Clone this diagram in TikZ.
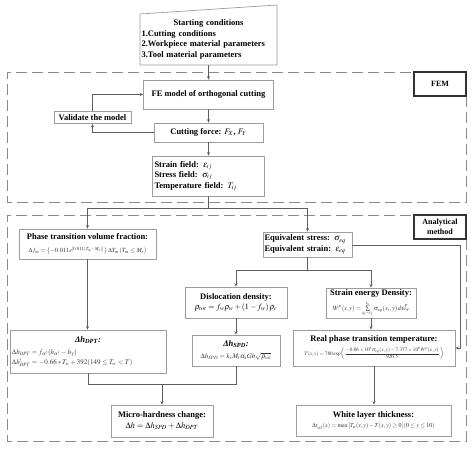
\documentclass[tikz,border=0pt]{standalone}
\usepackage{mathptmx}
\usepackage{fontspec}
\setmainfont{Liberation Serif}
\usetikzlibrary{arrows.meta}
\definecolor{boxgray}{HTML}{9C9C9C}
\definecolor{linegray}{HTML}{5E5E5E}
\definecolor{dashgray}{HTML}{8A8A8A}
\definecolor{frmgray}{HTML}{333333}
\newcommand\hdrfont{\fontsize{8.5}{10.5}\selectfont\bfseries}
\newcommand\frmfont{\fontsize{6.3}{8}\selectfont\mdseries\color{frmgray}}
\newcommand\tinyfrm{\fontsize{5.2}{6.5}\selectfont\mdseries\color{frmgray}}
\tikzset{
  box/.style={draw=boxgray, line width=0.7pt, fill=white, inner sep=1.5pt, font=\hdrfont, text=black},
  lbl/.style={draw=black!80, line width=1.1pt, fill=white, inner sep=1pt, font=\fontsize{8}{9.5}\selectfont\bfseries, align=center},
  conn/.style={draw=linegray, line width=0.6pt},
  arr/.style={conn, -{Stealth[length=3.5pt,width=3pt]}},
  region/.style={draw=dashgray, line width=0.8pt, dash pattern=on 11pt off 5pt}
}
\begin{document}
\begin{tikzpicture}[x=1pt,y=-1pt]
\useasboundingbox (0,0) rectangle (474,449);
% dashed regions
\draw[region] (466,96) -- (466,202) -- (7,202) -- (7,72) -- (414,72);
\draw[region] (466,239) -- (466,441) -- (7,441) -- (7,215) -- (414,215);
\node[lbl, minimum width=52pt, minimum height=24pt] (femlbl) at (440,84) {FEM};
\node[lbl, minimum width=52pt, minimum height=24pt] (anlbl) at (440,227) {Analytical\\method};
% start box
\draw[boxgray, line width=0.7pt, fill=white] (140,14) -- (277,5) -- (277,65) -- (140,65) -- cycle;
\node[font=\hdrfont, align=left, text width=134pt, minimum height=51pt, inner sep=0pt] (start) at (208.5,39.5)
  {\makebox[\linewidth]{Starting conditions}\\1.Cutting conditions\\2.Workpiece material parameters\\3.Tool material parameters};
% FEM part
\node[box, minimum width=130pt, minimum height=29pt] (fe) at (208.5,94.5) {FE model of orthogonal cutting};
\node[box, minimum width=77pt, minimum height=12pt, inner sep=0.5pt] (val) at (92.5,117.5) {Validate the model};
\node[box, minimum width=109pt, minimum height=19pt] (cut) at (208.5,132.5) {Cutting force: $F_X$, $F_Y$};
\node[box, minimum width=112pt, minimum height=40pt, text width=108pt, align=left] (strain) at (208.5,176)
  {Strain field: $\varepsilon_{ij}$\\Stress field: $\sigma_{ij}$\\Temperature field: $T_{ij}$};
% analytical part
\node[box, minimum width=137pt, minimum height=30pt, align=center] (phase) at (87.5,244)
  {Phase transition volume fraction:\\[3pt]{\frmfont $\Delta f_m=\{-0.011e^{[0.011(T_m-M_s)]}\}\,\Delta T_m\,(T_m\le M_s)$}};
\node[box, minimum width=89pt, minimum height=25pt, text width=86pt, align=left] (equiv) at (307.5,244.5)
  {Equivalent stress: $\sigma_{eq}$\\Equivalent strain: $\varepsilon_{eq}$};
\node[box, minimum width=102pt, minimum height=31pt, align=center] (disl) at (236,302.5)
  {Dislocation density:\\{\fontsize{8}{10}\selectfont\mdseries $\rho_{tot}=f_w\rho_w+\left(1-f_w\right)\rho_c$}};
\node[box, minimum width=90pt, minimum height=30pt, align=center] (senergy) at (371,303)
  {Strain energy Density:\\[3pt]{\frmfont $W^p(x,y)=\sum\limits_{t_0\sim t_1}^{t_n}\sigma_{eq}(x_i,y)\,d\varepsilon^p_{eq}$}};
\node[box, minimum width=162pt, minimum height=36pt, align=center] (realph) at (374,348)
  {Real phase transition temperature:\\[3pt]{\tinyfrm $T(x,y)=780\exp\!\left(\displaystyle\frac{-0.06\times10^{6}\sigma_{eq}(x,y)-7.377\times10^{6}W^p(x,y)}{920.5}\right)$}};
\node[box, minimum width=156pt, minimum height=43pt, text width=152pt, align=left] (dhdpt) at (88,351.5)
  {\makebox[\linewidth]{\textit{Δh}\textsubscript{\textit{DPT}}\textit{:}}\\[1pt]
   {\frmfont\fontsize{7}{9}\selectfont $\Delta h_{DPT}=f_{\alpha'}(h_{\alpha'}-h_{\gamma})$}\\
   {\frmfont\fontsize{7}{9}\selectfont $\Delta h'_{DPT}=-0.66*T_w+392(149\le T_w<T)$}};
\node[box, minimum width=88pt, minimum height=31pt, align=center] (dhspd) at (236,350.5)
  {\textit{Δh}\textsubscript{\textit{SPD}}\textit{:}\\[1pt]{\frmfont\fontsize{7}{9}\selectfont $\Delta h_{SPD}=k_sM_t\alpha_sGb\sqrt{\rho_{tot}}$}};
\node[box, minimum width=102pt, minimum height=32pt, align=center] (micro) at (162,421)
  {Micro-hardness change:\\{\fontsize{8.5}{10}\selectfont\mdseries $\Delta h=\Delta h_{SPD}+\Delta h_{DPT}$}};
\node[box, minimum width=155pt, minimum height=31pt, align=center] (white) at (373.5,420.5)
  {White layer thickness:\\{\frmfont\fontsize{6}{8}\selectfont $\Delta t_{wl}(x)=\max\left[T_a(x,y)-T(x,y)\ge0\right](0\le y\le10)$}};
% connectors
\draw[arr] (start.south) -- (start.south |- fe.north);
\draw[arr] (fe.south) -- (fe.south |- cut.north);
\draw[arr] (cut.south) -- (cut.south |- strain.north);
\draw[arr] (cut.west) -| (val.south);
\draw[arr] (val.north) |- (fe.west);
\draw[conn] (strain.south) -- (208.5,208);
\draw[arr] (208.5,208) -| (phase.north);
\draw[arr] (208.5,208) -| (equiv.north);
\draw[conn] (equiv.south) -- (307.5,270);
\draw[arr] (307.5,270) -| (disl.north);
\draw[arr] (307.5,270) -| (senergy.north);
\draw[arr] (equiv.east |- 0,245) -- (460,245) |- (realph.east);
\draw[arr] (phase.south) -- (phase.south |- dhdpt.north);
\draw[arr] (disl.south) -- (disl.south |- dhspd.north);
\draw[arr] (senergy.south) -- (senergy.south |- realph.north);
\draw[arr] (realph.south) -- (realph.south |- white.north);
\draw[conn] (dhdpt.south) |- (162,384);
\draw[conn] (dhspd.south) |- (162,384);
\draw[arr] (162,384) -- (micro.north);
\end{tikzpicture}
\end{document}
